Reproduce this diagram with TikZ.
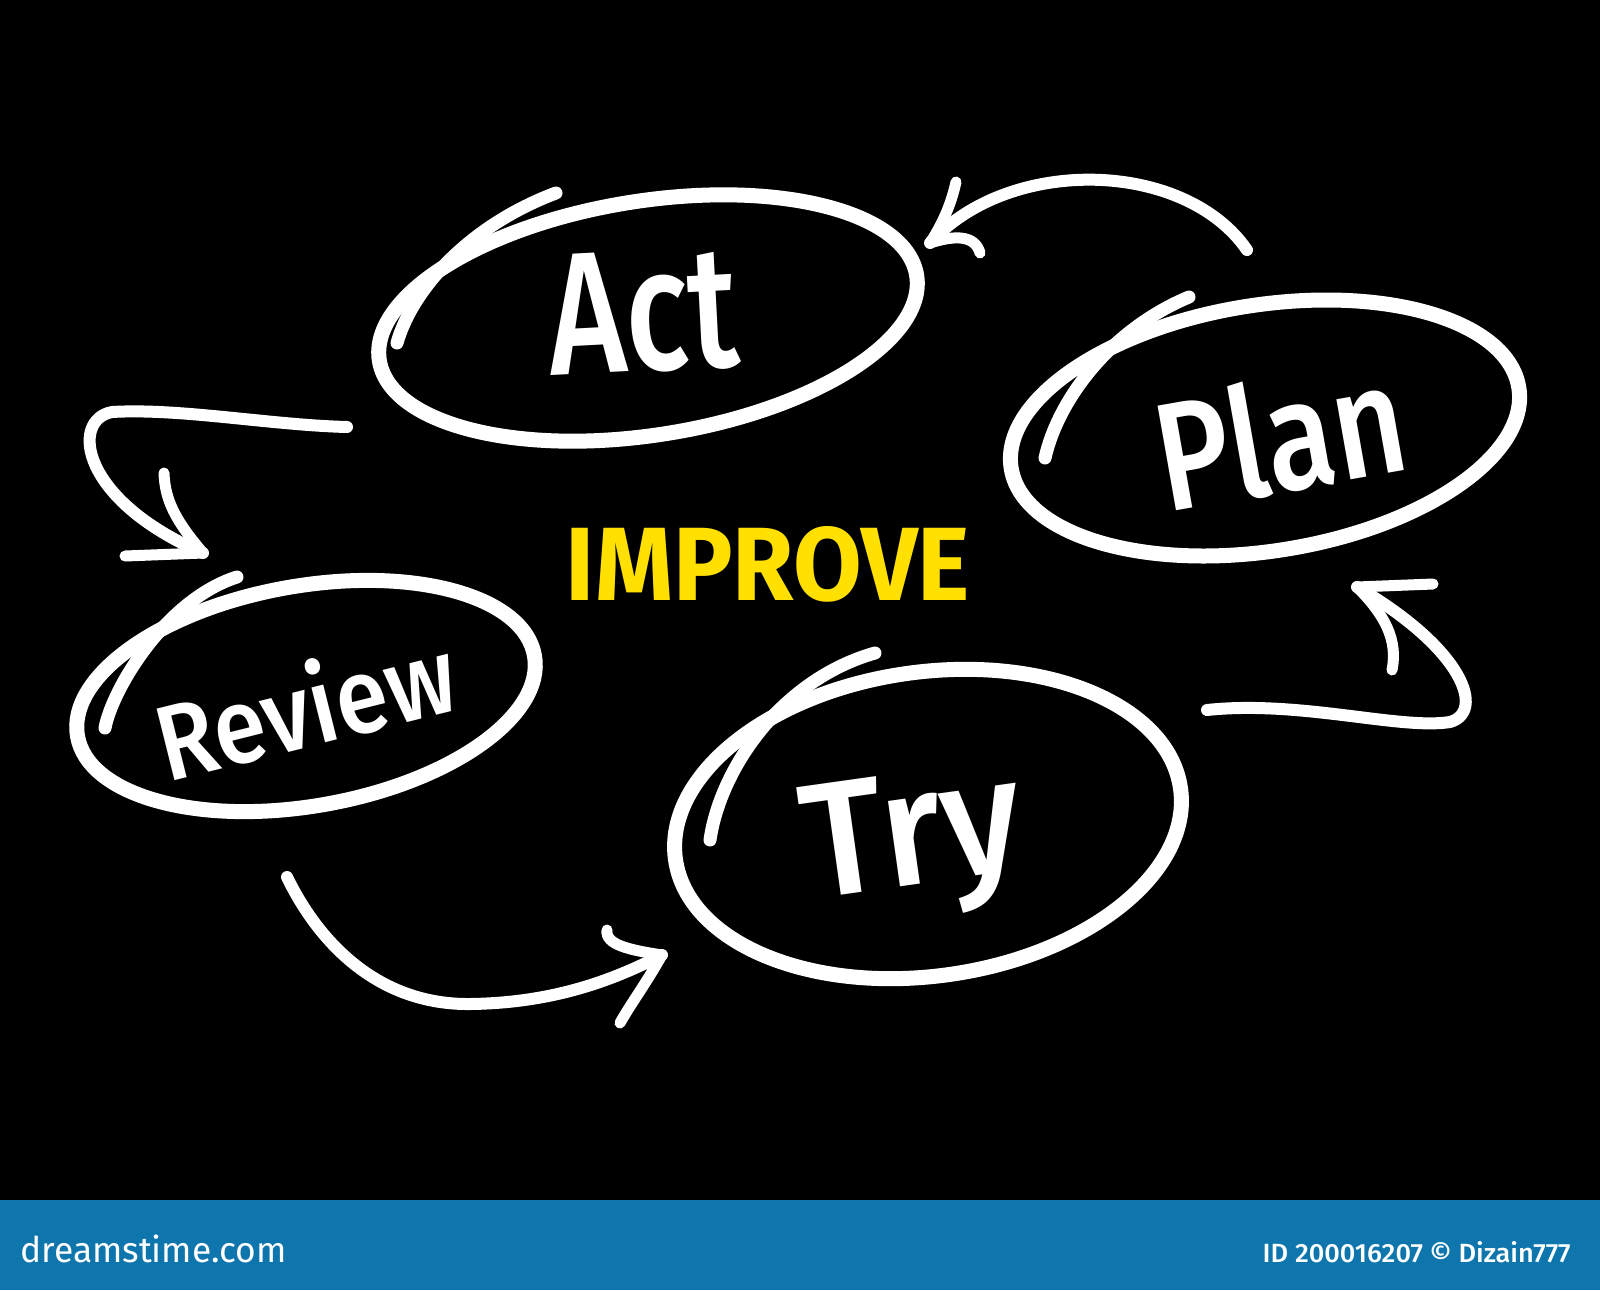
\documentclass[tikz,border=0pt]{standalone}
\usepackage{fontspec}
\setmainfont{Fira Sans}
\newfontfamily\markfont{Fira Sans Medium}
\usepackage{graphicx}
\definecolor{improveyellow}{HTML}{FFE000}
\definecolor{barblue}{HTML}{0E76AD}
\begin{document}
\begin{tikzpicture}[x=0.5pt,y=-0.5pt,
  ringline/.style={draw=white,line width=7.5pt},
  extraline/.style={draw=white,line width=6.5pt,line cap=round},
  arrowline/.style={draw=white,line width=6pt,line cap=round,line join=round},
  barbline/.style={draw=white,line width=5.5pt,line cap=round},
  word/.style={text=white,inner sep=0pt,font=\markfont}]
\fill[black] (0,0) rectangle (1600,1290);
\useasboundingbox (0,0) rectangle (1600,1290);
\fill[barblue] (0,1200) rectangle (1600,1290);

% ellipses
\draw[ringline, rotate around={9:(648,318)}] (648,318) ellipse [x radius=272, y radius=117];
\draw[extraline] (397,343) .. controls (412,290) and (468,226) .. (556,193);
\draw[ringline, rotate around={9:(1265,428)}] (1265,428) ellipse [x radius=257, y radius=123];
\draw[extraline] (1045,458) .. controls (1058,400) and (1110,330) .. (1189,297);
\draw[ringline, rotate around={10:(306,696)}] (306,696) ellipse [x radius=232, y radius=110];
\draw[extraline] (105,728) .. controls (112,690) and (165,600) .. (237,577);
\draw[ringline, rotate around={8:(928,824)}] (928,824) ellipse [x radius=255, y radius=152];
\draw[extraline] (710,840) .. controls (720,770) and (780,680) .. (875,653);

% texts
\node[word, rotate=3] (act) at (643,312) {\resizebox{95pt}{60pt}{Act}};
\node[word, rotate=10] (plan) at (1280,435) {\resizebox{125pt}{58pt}{Plan}};
\node[word, rotate=14] (review) at (305,705) {\resizebox{152pt}{42.5pt}{Review}};
\node[word, rotate=8] (try) at (914,846) {\resizebox*{110pt}{74pt}{Try}};
\node[inner sep=0pt, text=improveyellow] (improve) at (768,564) {\resizebox{202pt}{37pt}{\bfseries IMPROVE}};

% arrow 1: Plan -> Act
\coordinate (a1s) at (1247,250);
\coordinate (a1t) at (930,243);
\draw[arrowline] (a1s) .. controls (1185,160) and (1010,155) .. (a1t);
\draw[barbline] (a1t) .. controls (945,220) and (952,200) .. (956,182);
\draw[barbline] (a1t) .. controls (955,235) and (975,235) .. (980,253);

% arrow 2: Act -> Review
\coordinate (a2s) at (347,427);
\coordinate (a2t) at (203,553);
\draw[arrowline] (a2s) .. controls (270,425) and (180,408) .. (112,412)
  .. controls (70,420) and (80,500) .. (a2t);
\draw[barbline] (a2t) .. controls (175,520) and (165,500) .. (164,473);
\draw[barbline] (a2t) -- (125,556);

% arrow 3: Review -> Try
\coordinate (a3s) at (287,877);
\coordinate (a3t) at (662,955);
\draw[arrowline] (a3s) .. controls (320,945) and (380,1005) .. (470,1004)
  .. controls (550,1003) and (610,982) .. (a3t);
\draw[barbline] (a3t) .. controls (630,950) and (605,945) .. (607,930);
\draw[barbline] (a3t) .. controls (645,985) and (630,1005) .. (620,1023);

% arrow 4: Try -> Plan
\coordinate (a4s) at (1207,710);
\coordinate (a4t) at (1357,587);
\draw[arrowline] (a4s) .. controls (1300,700) and (1400,730) .. (1450,722)
  .. controls (1485,712) and (1465,650) .. (a4t);
\draw[barbline] (a4t) -- (1433,584);
\draw[barbline] (a4t) .. controls (1385,615) and (1398,640) .. (1392,670);

% bottom bar texts
\node[inner sep=0pt, text=white, anchor=base west] (brand) at (20,1262) {\resizebox{133pt}{!}{dreamstime.com}};
\node[inner sep=0pt, text=white, anchor=base east] (imgid) at (1571,1262) {\resizebox{154pt}{10.5pt}{\markfont ID 200016207 © Dizain777}};
\end{tikzpicture}
\end{document}
